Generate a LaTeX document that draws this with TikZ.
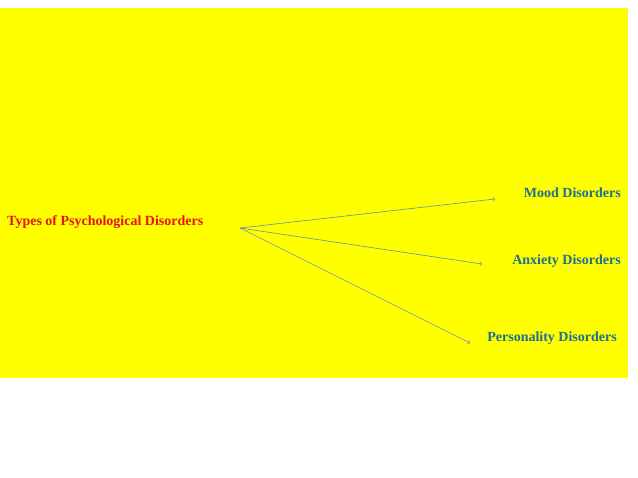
\documentclass[tikz,border=0pt]{standalone}
\usepackage{fontspec}
\setmainfont{Liberation Serif}
\definecolor{bg}{RGB}{255,255,0}
\definecolor{tblue}{RGB}{30,110,150}
\definecolor{ared}{RGB}{230,20,20}
\definecolor{ln}{RGB}{100,140,170}
\begin{document}
\begin{tikzpicture}[x=1pt,y=-1pt,
  lbl/.style={font=\bfseries\fontsize{14}{16}\selectfont,inner sep=0pt},
  conn/.style={draw=ln,line width=0.6pt,-to}]
\useasboundingbox (0,0) rectangle (638,478);
\fill[bg] (0,8) rectangle (628,378);
\node[lbl,text=ared,anchor=west] (root) at (7,222) {Types of Psychological Disorders};
\node[lbl,text=tblue,anchor=east] (mood) at (621,193) {Mood Disorders};
\node[lbl,text=tblue,anchor=east] (anx) at (621,261) {Anxiety Disorders};
\node[lbl,text=tblue,anchor=east] (pers) at (617,338) {Personality Disorders};
\coordinate (o) at (240,228);
\coordinate (m) at (495,199);
\coordinate (a) at (482,264);
\coordinate (p) at (470,343);
\draw[conn] (o) -- (m);
\draw[conn] (o) -- (a);
\draw[conn] (o) -- (p);
\end{tikzpicture}
\end{document}
